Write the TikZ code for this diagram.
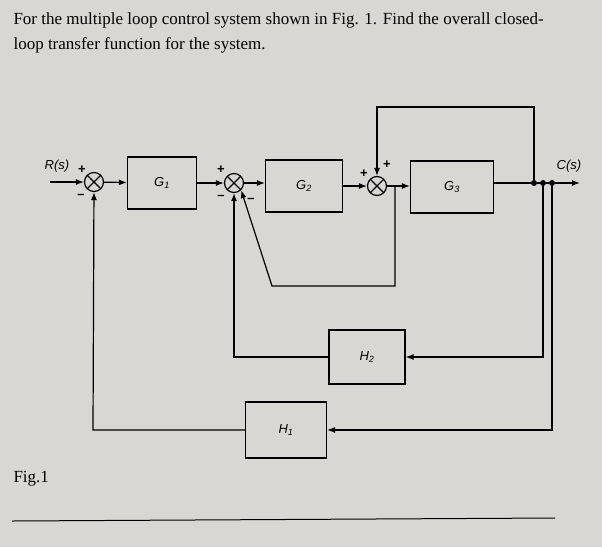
\documentclass[tikz,border=0pt]{standalone}
\usepackage{fontspec}
\setmainfont{Liberation Serif}
\newfontfamily\diagfont{Liberation Sans}
\usetikzlibrary{arrows.meta}
\definecolor{paper}{HTML}{D9D7D4}
\newcommand{\gsub}[2]{#1\textsubscript{#2}}
\tikzset{
  blk/.style={draw, line width=1.2pt, minimum width=#1, minimum height=52pt, font=\diagfont\itshape\fontsize{13}{15}\selectfont},
  blk/.default=70pt,
  sumj/.style={draw, circle, line width=1.2pt, minimum size=19pt, inner sep=0pt,
    path picture={\draw[line width=1.2pt] (path picture bounding box.north west) -- (path picture bounding box.south east)
      (path picture bounding box.north east) -- (path picture bounding box.south west);}},
  dot/.style={circle, fill, inner sep=0pt, minimum size=6pt},
  sig/.style={line width=1.2pt, -{Latex[length=8pt, width=6pt]}},
  wire/.style={line width=1.2pt},
  sgn/.style={font=\diagfont\bfseries\fontsize{13}{15}\selectfont, inner sep=1pt}
}
\begin{document}
\begin{tikzpicture}[x=1pt, y=-1pt]
\fill[paper] (0,0) rectangle (602,547);
\useasboundingbox (0,0) rectangle (602,547);
\node[anchor=west, align=left, font=\fontsize{17}{25}\selectfont] (txt) at (10,33)
  {For the multiple loop control system shown in Fig. 1. Find the overall closed-\\loop transfer function for the system.};
\node[anchor=west, font=\fontsize{17}{19}\selectfont] (fig) at (10,479) {Fig.1};
\draw[line width=1pt] (12,521) -- (555,518);

% blocks and junctions
\node[sumj] (s1) at (94,182) {};
\node[blk=69pt] (g1) at (162,183) {\gsub{G}{1}};
\node[sumj] (s2) at (234,183) {};
\node[blk=77pt] (g2) at (304,186) {\gsub{G}{2}};
\node[sumj] (s3) at (377,186) {};
\node[blk=83pt] (g3) at (452,187) {\gsub{G}{3}};
\node[blk=76pt, minimum height=54pt] (h2) at (367,357) {\gsub{H}{2}};
\node[blk=81pt, minimum height=56pt] (h1) at (286,430) {\gsub{H}{1}};

\node[dot] (d1) at (534,183) {};
\node[dot] (d2) at (543,183) {};
\node[dot] (d3) at (552,183) {};
\coordinate (r) at (50,182);
\coordinate (c) at (580,183);
\coordinate (b3) at (395,186);

% forward path
\draw[sig] (r) -- (s1);
\draw[sig] (s1) -- (g1);
\draw[sig] (g1.east |- s2) -- (s2);
\draw[sig] (s2) -- (g2.west |- s2);
\draw[sig] (g2.east |- s3) -- (s3);
\draw[sig] (s3) -- (g3.west |- s3);
\draw[wire] (g3.east |- d1) -- (d1) -- (d2) -- (d3);
\draw[sig] (d3) -- (c);

% loops
\draw[sig] (d1) -- (534,107) -- (377,107) -- (s3);
\draw[sig] (b3) -- (395,286) -- (272,286) -- (s2.south east);
\draw[sig] (d2) -- (543,357) -- (h2);
\draw[sig] (h2) -- (234,357) -- (s2);
\draw[sig] (d3) -- (552,430) -- (h1);
\draw[sig] (h1) -- (93,430) -- (s1);

% labels
\node[anchor=south, font=\diagfont\itshape\fontsize{13}{15}\selectfont] at (57,176) {R(s)};
\node[anchor=south, font=\diagfont\itshape\fontsize{13}{15}\selectfont] at (569,176) {C(s)};
\node[sgn] at (82,170) {+};
\node[sgn] at (81,196) {–};
\node[sgn] at (221,170) {+};
\node[sgn] at (221,197) {–};
\node[sgn] at (251,200) {–};
\node[sgn] at (364,174) {+};
\node[sgn] at (387,165) {+};
\end{tikzpicture}
\end{document}
